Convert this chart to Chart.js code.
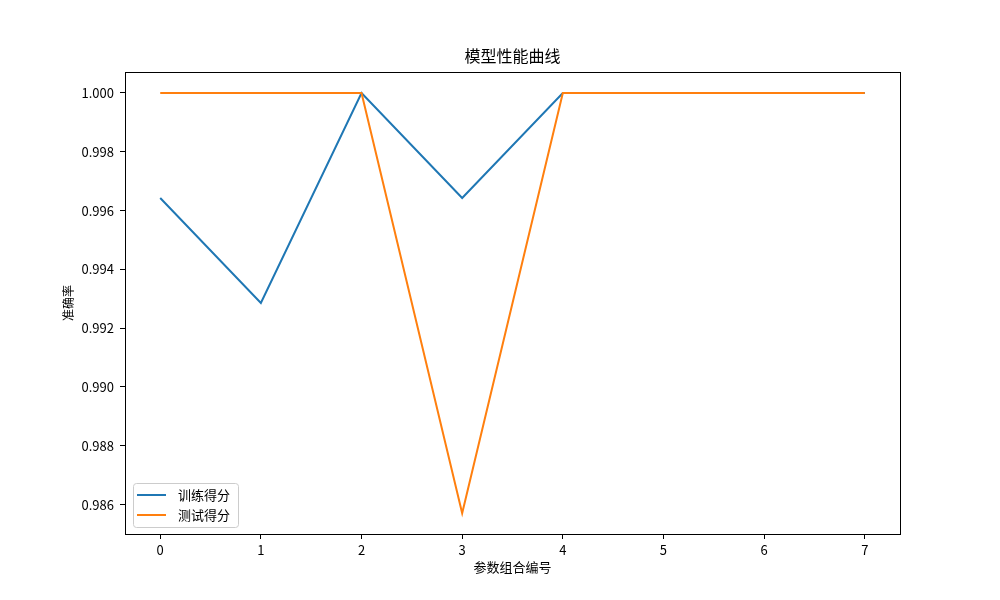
<!DOCTYPE html>
<html lang="zh">
<head>
<meta charset="UTF-8">
<title>模型性能曲线</title>
<script src="https://cdn.jsdelivr.net/npm/chart.js"></script>
<style>
  body { margin: 0; background: #fff; }
  .chart-container { width: 1000px; height: 600px; }
</style>
</head>
<body>
<div class="chart-container">
  <canvas id="grafico" width="1000" height="600"></canvas>
</div>
<script>
  // dados
  const paramIndex = [0, 1, 2, 3, 4, 5, 6, 7];
  const trainScore = [0.99643, 0.99286, 1.0, 0.99643, 1.0, 1.0, 1.0, 1.0];
  const testScore = [1.0, 1.0, 1.0, 0.98571, 1.0, 1.0, 1.0, 1.0];
  const yTicks = [0.986, 0.988, 0.990, 0.992, 0.994, 0.996, 0.998, 1.000];
  const seriesNames = ['训练得分', '测试得分'];
  const seriesColors = ['#1f77b4', '#ff7f0e'];

  const fonte = '"Noto Sans CJK SC", "DejaVu Sans", sans-serif';

  // moldura completa em volta da área do gráfico
  const moldura = {
    id: 'moldura',
    afterDraw(chart) {
      const a = chart.chartArea, ctx = chart.ctx;
      ctx.save();
      ctx.strokeStyle = '#000';
      ctx.lineWidth = 1;
      ctx.strokeRect(Math.round(a.left) + 0.5, Math.round(a.top) + 0.5,
        Math.round(a.right - a.left), Math.round(a.bottom - a.top));
      ctx.restore();
    }
  };

  // legenda no canto inferior esquerdo, dentro da área
  const legenda = {
    id: 'legenda',
    afterDraw(chart) {
      const a = chart.chartArea, ctx = chart.ctx;
      ctx.save();
      ctx.font = '13px ' + fonte;
      let tw = 0;
      seriesNames.forEach(n => { tw = Math.max(tw, ctx.measureText(n).width); });
      const w = 4 + 29 + 12 + tw + 8, h = 44;
      const x = a.left + 8, y = a.bottom - 7 - h;
      ctx.fillStyle = 'rgba(255,255,255,0.8)';
      ctx.strokeStyle = '#cccccc';
      ctx.lineWidth = 1;
      ctx.beginPath();
      ctx.roundRect(x + 0.5, y + 0.5, w, h, 3);
      ctx.fill();
      ctx.stroke();
      seriesNames.forEach((n, i) => {
        const ly = y + 12 + i * 20;
        ctx.strokeStyle = seriesColors[i];
        ctx.lineWidth = 2;
        ctx.beginPath();
        ctx.moveTo(x + 4, ly);
        ctx.lineTo(x + 33, ly);
        ctx.stroke();
        ctx.fillStyle = '#000';
        ctx.textBaseline = 'middle';
        ctx.fillText(n, x + 45, ly);
      });
      ctx.restore();
    }
  };

  const pontos = (ys) => paramIndex.map((x, i) => ({ x: x, y: ys[i] }));

  new Chart(document.getElementById('grafico'), {
    type: 'line',
    data: {
      datasets: [{
        label: seriesNames[0],
        data: pontos(trainScore),
        borderColor: seriesColors[0],
        backgroundColor: seriesColors[0],
        borderWidth: 2,
        pointRadius: 0,
        tension: 0,
        order: 1
      },
      {
        label: seriesNames[1],
        data: pontos(testScore),
        borderColor: seriesColors[1],
        backgroundColor: seriesColors[1],
        borderWidth: 2,
        pointRadius: 0,
        tension: 0,
        order: 0
      }]
    },
    options: {
      responsive: false,
      animation: false,
      devicePixelRatio: 1,
      layout: { padding: { left: 0, right: 100, top: 0, bottom: 0 } },
      scales: {
        x: {
          type: 'linear',
          min: -0.35,
          max: 7.35,
          afterBuildTicks(s) { s.ticks = paramIndex.map(v => ({ value: v })); },
          afterFit(s) { s.height = 66; },
          grid: { drawOnChartArea: false, drawTicks: true, tickLength: 5, color: '#000' },
          border: { display: true, color: '#000' },
          ticks: { color: '#000', padding: 3, font: { family: fonte, size: 13 }, maxRotation: 0 },
          title: { display: true, text: '参数组合编号', color: '#000',
            font: { family: fonte, size: 13 }, padding: { top: 0, bottom: 25 } }
        },
        y: {
          min: 0.985,
          max: 1.000714,
          afterBuildTicks(s) { s.ticks = yTicks.map(v => ({ value: v })); },
          afterFit(s) { s.width = 125; },
          grid: { drawOnChartArea: false, drawTicks: true, tickLength: 5, color: '#000' },
          border: { display: true, color: '#000' },
          ticks: { color: '#000', padding: 6, font: { family: fonte, size: 13 },
            callback: v => v.toFixed(3) },
          title: { display: true, text: '准确率', color: '#000',
            font: { family: fonte, size: 12 }, padding: { top: 61, bottom: 0 } }
        }
      },
      plugins: {
        legend: { display: false },
        tooltip: { enabled: false },
        title: {
          display: true,
          fullSize: false,
          text: '模型性能曲线',
          color: '#000',
          font: { family: fonte, size: 16, weight: 'normal' },
          padding: { top: 46.8, bottom: 6 }
        }
      }
    },
    plugins: [moldura, legenda]
  });
</script>
</body>
</html>
